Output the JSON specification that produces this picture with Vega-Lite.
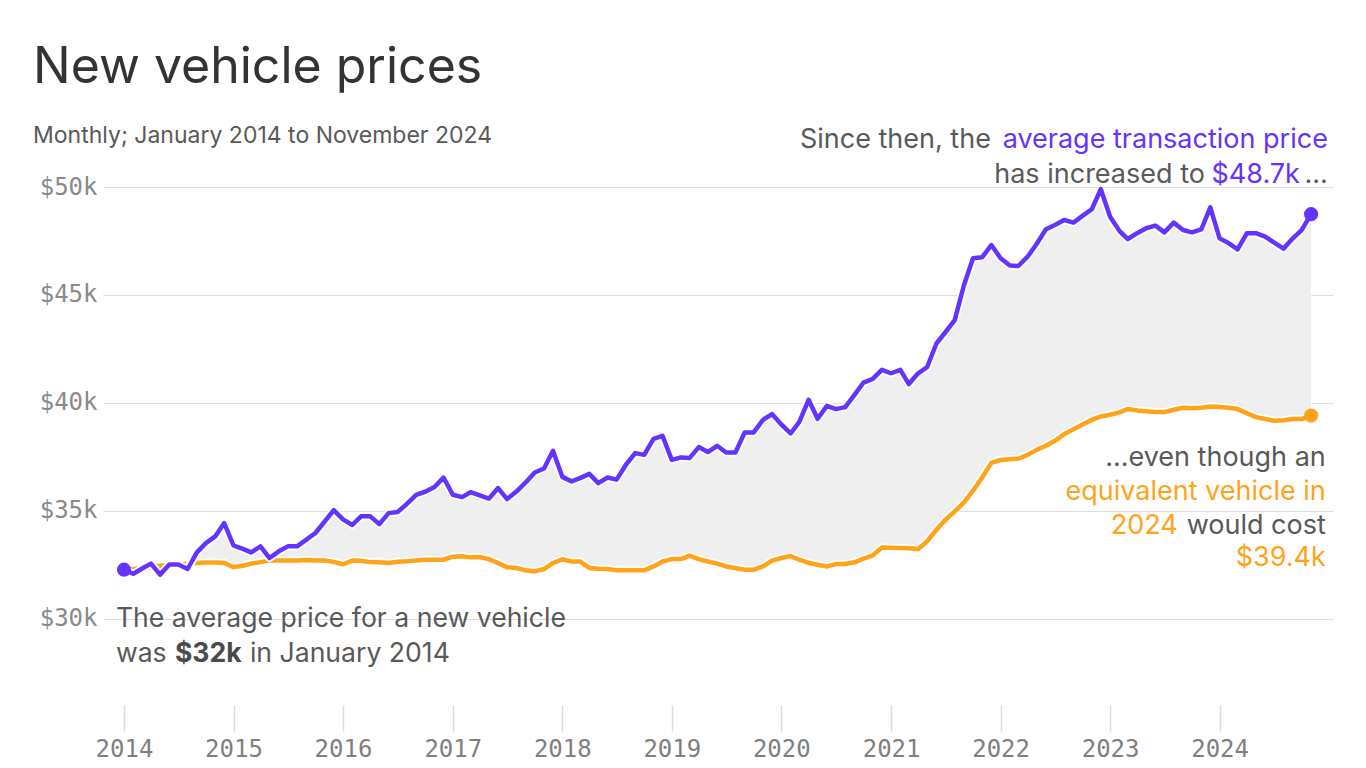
{
  "$schema": "https://vega.github.io/schema/vega-lite/v6.json",
  "width": 1230,
  "height": 518,
  "autosize": {"type": "none"},
  "padding": {"left": 103, "top": 187, "right": 33, "bottom": 63},
  "background": "white",
  "config": {"view": {"stroke": null}, "font": "Inter"},
  "title": {
    "text": "New vehicle prices",
    "subtitle": "Monthly; January 2014 to November 2024",
    "anchor": "start",
    "frame": "group",
    "dx": -70,
    "font": "Inter",
    "fontSize": 50,
    "fontWeight": 400,
    "color": "#333333",
    "subtitleFont": "Inter",
    "subtitleFontSize": 23,
    "subtitleColor": "#595959",
    "subtitlePadding": 32,
    "offset": -22
  },
  "datasets": {
    "prices": [
      {"date": "2014-01-01", "atp": 32.27, "eq": 32.27},
      {"date": "2014-02-01", "atp": 32.08, "eq": 32.30},
      {"date": "2014-03-01", "atp": 32.31, "eq": 32.35},
      {"date": "2014-04-01", "atp": 32.55, "eq": 32.39},
      {"date": "2014-05-01", "atp": 32.04, "eq": 32.45},
      {"date": "2014-06-01", "atp": 32.51, "eq": 32.50},
      {"date": "2014-07-01", "atp": 32.51, "eq": 32.51},
      {"date": "2014-08-01", "atp": 32.30, "eq": 32.55},
      {"date": "2014-09-01", "atp": 33.07, "eq": 32.58},
      {"date": "2014-10-01", "atp": 33.50, "eq": 32.60},
      {"date": "2014-11-01", "atp": 33.81, "eq": 32.60},
      {"date": "2014-12-01", "atp": 34.43, "eq": 32.58},
      {"date": "2015-01-01", "atp": 33.39, "eq": 32.39},
      {"date": "2015-02-01", "atp": 33.23, "eq": 32.45},
      {"date": "2015-03-01", "atp": 33.07, "eq": 32.55},
      {"date": "2015-04-01", "atp": 33.35, "eq": 32.62},
      {"date": "2015-05-01", "atp": 32.81, "eq": 32.69},
      {"date": "2015-06-01", "atp": 33.12, "eq": 32.69},
      {"date": "2015-07-01", "atp": 33.35, "eq": 32.69},
      {"date": "2015-08-01", "atp": 33.35, "eq": 32.69},
      {"date": "2015-09-01", "atp": 33.66, "eq": 32.72},
      {"date": "2015-10-01", "atp": 33.97, "eq": 32.70},
      {"date": "2015-11-01", "atp": 34.50, "eq": 32.70},
      {"date": "2015-12-01", "atp": 35.03, "eq": 32.63},
      {"date": "2016-01-01", "atp": 34.60, "eq": 32.52},
      {"date": "2016-02-01", "atp": 34.34, "eq": 32.69},
      {"date": "2016-03-01", "atp": 34.74, "eq": 32.68},
      {"date": "2016-04-01", "atp": 34.74, "eq": 32.62},
      {"date": "2016-05-01", "atp": 34.38, "eq": 32.61},
      {"date": "2016-06-01", "atp": 34.89, "eq": 32.58},
      {"date": "2016-07-01", "atp": 34.94, "eq": 32.64},
      {"date": "2016-08-01", "atp": 35.32, "eq": 32.66},
      {"date": "2016-09-01", "atp": 35.74, "eq": 32.69},
      {"date": "2016-10-01", "atp": 35.88, "eq": 32.73},
      {"date": "2016-11-01", "atp": 36.10, "eq": 32.73},
      {"date": "2016-12-01", "atp": 36.54, "eq": 32.73},
      {"date": "2017-01-01", "atp": 35.74, "eq": 32.87},
      {"date": "2017-02-01", "atp": 35.63, "eq": 32.89},
      {"date": "2017-03-01", "atp": 35.86, "eq": 32.84},
      {"date": "2017-04-01", "atp": 35.71, "eq": 32.86},
      {"date": "2017-05-01", "atp": 35.56, "eq": 32.76},
      {"date": "2017-06-01", "atp": 36.05, "eq": 32.58},
      {"date": "2017-07-01", "atp": 35.54, "eq": 32.38},
      {"date": "2017-08-01", "atp": 35.89, "eq": 32.35},
      {"date": "2017-09-01", "atp": 36.31, "eq": 32.24},
      {"date": "2017-10-01", "atp": 36.77, "eq": 32.19},
      {"date": "2017-11-01", "atp": 36.96, "eq": 32.30},
      {"date": "2017-12-01", "atp": 37.78, "eq": 32.58},
      {"date": "2018-01-01", "atp": 36.57, "eq": 32.75},
      {"date": "2018-02-01", "atp": 36.36, "eq": 32.65},
      {"date": "2018-03-01", "atp": 36.51, "eq": 32.65},
      {"date": "2018-04-01", "atp": 36.71, "eq": 32.35},
      {"date": "2018-05-01", "atp": 36.28, "eq": 32.31},
      {"date": "2018-06-01", "atp": 36.54, "eq": 32.30},
      {"date": "2018-07-01", "atp": 36.44, "eq": 32.24},
      {"date": "2018-08-01", "atp": 37.13, "eq": 32.24},
      {"date": "2018-09-01", "atp": 37.67, "eq": 32.24},
      {"date": "2018-10-01", "atp": 37.59, "eq": 32.24},
      {"date": "2018-11-01", "atp": 38.33, "eq": 32.42},
      {"date": "2018-12-01", "atp": 38.47, "eq": 32.65},
      {"date": "2019-01-01", "atp": 37.36, "eq": 32.76},
      {"date": "2019-02-01", "atp": 37.47, "eq": 32.76},
      {"date": "2019-03-01", "atp": 37.44, "eq": 32.92},
      {"date": "2019-04-01", "atp": 37.95, "eq": 32.76},
      {"date": "2019-05-01", "atp": 37.72, "eq": 32.65},
      {"date": "2019-06-01", "atp": 38.01, "eq": 32.55},
      {"date": "2019-07-01", "atp": 37.70, "eq": 32.42},
      {"date": "2019-08-01", "atp": 37.70, "eq": 32.35},
      {"date": "2019-09-01", "atp": 38.63, "eq": 32.27},
      {"date": "2019-10-01", "atp": 38.63, "eq": 32.27},
      {"date": "2019-11-01", "atp": 39.21, "eq": 32.42},
      {"date": "2019-12-01", "atp": 39.48, "eq": 32.69},
      {"date": "2020-01-01", "atp": 39.00, "eq": 32.81},
      {"date": "2020-02-01", "atp": 38.58, "eq": 32.90},
      {"date": "2020-03-01", "atp": 39.12, "eq": 32.73},
      {"date": "2020-04-01", "atp": 40.14, "eq": 32.58},
      {"date": "2020-05-01", "atp": 39.26, "eq": 32.50},
      {"date": "2020-06-01", "atp": 39.86, "eq": 32.42},
      {"date": "2020-07-01", "atp": 39.71, "eq": 32.53},
      {"date": "2020-08-01", "atp": 39.80, "eq": 32.53},
      {"date": "2020-09-01", "atp": 40.37, "eq": 32.61},
      {"date": "2020-10-01", "atp": 40.94, "eq": 32.78},
      {"date": "2020-11-01", "atp": 41.11, "eq": 32.93},
      {"date": "2020-12-01", "atp": 41.53, "eq": 33.30},
      {"date": "2021-01-01", "atp": 41.37, "eq": 33.29},
      {"date": "2021-02-01", "atp": 41.53, "eq": 33.27},
      {"date": "2021-03-01", "atp": 40.87, "eq": 33.26},
      {"date": "2021-04-01", "atp": 41.37, "eq": 33.23},
      {"date": "2021-05-01", "atp": 41.65, "eq": 33.58},
      {"date": "2021-06-01", "atp": 42.75, "eq": 34.12},
      {"date": "2021-07-01", "atp": 43.27, "eq": 34.58},
      {"date": "2021-08-01", "atp": 43.83, "eq": 34.97},
      {"date": "2021-09-01", "atp": 45.46, "eq": 35.39},
      {"date": "2021-10-01", "atp": 46.70, "eq": 35.93},
      {"date": "2021-11-01", "atp": 46.75, "eq": 36.55},
      {"date": "2021-12-01", "atp": 47.31, "eq": 37.22},
      {"date": "2022-01-01", "atp": 46.70, "eq": 37.35},
      {"date": "2022-02-01", "atp": 46.36, "eq": 37.39},
      {"date": "2022-03-01", "atp": 46.34, "eq": 37.41},
      {"date": "2022-04-01", "atp": 46.77, "eq": 37.59},
      {"date": "2022-05-01", "atp": 47.36, "eq": 37.82},
      {"date": "2022-06-01", "atp": 48.04, "eq": 38.01},
      {"date": "2022-07-01", "atp": 48.24, "eq": 38.24},
      {"date": "2022-08-01", "atp": 48.47, "eq": 38.55},
      {"date": "2022-09-01", "atp": 48.35, "eq": 38.78},
      {"date": "2022-10-01", "atp": 48.66, "eq": 39.00},
      {"date": "2022-11-01", "atp": 48.97, "eq": 39.21},
      {"date": "2022-12-01", "atp": 49.90, "eq": 39.37},
      {"date": "2023-01-01", "atp": 48.62, "eq": 39.45},
      {"date": "2023-02-01", "atp": 47.97, "eq": 39.56},
      {"date": "2023-03-01", "atp": 47.59, "eq": 39.71},
      {"date": "2023-04-01", "atp": 47.86, "eq": 39.65},
      {"date": "2023-05-01", "atp": 48.09, "eq": 39.61},
      {"date": "2023-06-01", "atp": 48.21, "eq": 39.58},
      {"date": "2023-07-01", "atp": 47.90, "eq": 39.57},
      {"date": "2023-08-01", "atp": 48.35, "eq": 39.68},
      {"date": "2023-09-01", "atp": 48.01, "eq": 39.77},
      {"date": "2023-10-01", "atp": 47.90, "eq": 39.75},
      {"date": "2023-11-01", "atp": 48.04, "eq": 39.77},
      {"date": "2023-12-01", "atp": 49.06, "eq": 39.83},
      {"date": "2024-01-01", "atp": 47.62, "eq": 39.81},
      {"date": "2024-02-01", "atp": 47.39, "eq": 39.77},
      {"date": "2024-03-01", "atp": 47.11, "eq": 39.71},
      {"date": "2024-04-01", "atp": 47.86, "eq": 39.52},
      {"date": "2024-05-01", "atp": 47.86, "eq": 39.34},
      {"date": "2024-06-01", "atp": 47.70, "eq": 39.25},
      {"date": "2024-07-01", "atp": 47.42, "eq": 39.17},
      {"date": "2024-08-01", "atp": 47.14, "eq": 39.19},
      {"date": "2024-09-01", "atp": 47.62, "eq": 39.25},
      {"date": "2024-10-01", "atp": 48.01, "eq": 39.25},
      {"date": "2024-11-01", "atp": 48.74, "eq": 39.41}
    ],
    "notes": [
      {"key": "a1", "label": "average transaction price"},
      {"key": "a2", "label": "Since then, the"},
      {"key": "a3", "label": "..."},
      {"key": "a4", "label": "$48.7k"},
      {"key": "a5", "label": "has increased to"},
      {"key": "b1", "label": "...even though an"},
      {"key": "b2", "label": "equivalent vehicle in"},
      {"key": "b3", "label": "would cost"},
      {"key": "b4", "label": "2024"},
      {"key": "b5", "label": "$39.4k"},
      {"key": "c1", "label": "The average price for a new vehicle"},
      {"key": "c2", "label": "was"},
      {"key": "c3", "label": "$32k"},
      {"key": "c4", "label": "in January 2014"}
    ]
  },
  "layer": [
    {
      "data": {"name": "prices"},
      "encoding": {
        "x": {
          "field": "date",
          "type": "temporal",
          "title": null,
          "scale": {
            "type": "utc",
            "domain": [
              {"year": 2013, "month": 10, "date": 23, "utc": true},
              {"year": 2025, "month": 1, "date": 13, "utc": true}
            ]
          },
          "axis": {
            "format": "%Y",
            "formatType": "utc",
            "values": [
              {"year": 2014, "month": 1, "date": 1, "utc": true},
              {"year": 2015, "month": 1, "date": 1, "utc": true},
              {"year": 2016, "month": 1, "date": 1, "utc": true},
              {"year": 2017, "month": 1, "date": 1, "utc": true},
              {"year": 2018, "month": 1, "date": 1, "utc": true},
              {"year": 2019, "month": 1, "date": 1, "utc": true},
              {"year": 2020, "month": 1, "date": 1, "utc": true},
              {"year": 2021, "month": 1, "date": 1, "utc": true},
              {"year": 2022, "month": 1, "date": 1, "utc": true},
              {"year": 2023, "month": 1, "date": 1, "utc": true},
              {"year": 2024, "month": 1, "date": 1, "utc": true}
            ],
            "domain": false,
            "grid": false,
            "ticks": true,
            "tickSize": 26,
            "tickColor": "#dddddd",
            "tickWidth": 1.5,
            "labelFont": "DejaVu Sans Mono",
            "labelFontSize": 24,
            "labelColor": "#7f7f7f",
            "labelPadding": 6
          }
        }
      },
      "layer": [
        {
          "mark": {"type": "area", "color": "#efefef"},
          "encoding": {
            "y": {
              "field": "atp",
              "type": "quantitative",
              "title": null,
              "scale": {"domain": [26, 50], "nice": false, "zero": false},
              "axis": {
                "values": [30, 35, 40, 45, 50],
                "labelExpr": "'$' + datum.value + 'k'",
                "domain": false,
                "ticks": false,
                "grid": true,
                "gridColor": "#dddddd",
                "gridWidth": 1.2,
                "labelFont": "DejaVu Sans Mono",
                "labelFontSize": 24,
                "labelColor": "#8a8a8a",
                "labelPadding": 6
              }
            },
            "y2": {"field": "eq"}
          }
        },
        {
          "mark": {"type": "line", "color": "white", "strokeWidth": 8, "strokeJoin": "round"},
          "encoding": {"y": {"field": "eq", "type": "quantitative"}}
        },
        {
          "mark": {"type": "line", "color": "#FFA31A", "strokeWidth": 4.5, "strokeJoin": "round"},
          "encoding": {"y": {"field": "eq", "type": "quantitative"}}
        },
        {
          "mark": {"type": "line", "color": "white", "strokeWidth": 8, "strokeJoin": "round"},
          "encoding": {"y": {"field": "atp", "type": "quantitative"}}
        },
        {
          "mark": {"type": "line", "color": "#6533FF", "strokeWidth": 4.5, "strokeJoin": "round"},
          "encoding": {"y": {"field": "atp", "type": "quantitative"}}
        },
        {
          "transform": [{"filter": "utcyear(datum.date) == 2024 && utcmonth(datum.date) == 10"}],
          "mark": {"type": "circle", "color": "#FFA31A", "opacity": 1, "size": 200},
          "encoding": {"y": {"field": "eq", "type": "quantitative"}}
        },
        {
          "transform": [{"filter": "(utcyear(datum.date) == 2024 && utcmonth(datum.date) == 10) || (utcyear(datum.date) == 2014 && utcmonth(datum.date) == 0)"}],
          "mark": {"type": "circle", "color": "#6533FF", "opacity": 1, "size": 200},
          "encoding": {"y": {"field": "atp", "type": "quantitative"}}
        }
      ]
    },
    {
      "data": {"name": "notes"},
      "layer": [
        {
          "transform": [{"filter": "datum.key == 'a1'"}],
          "mark": {"type": "text", "align": "right", "baseline": "alphabetic", "font": "Inter", "fontSize": 27, "color": "#6533FF"},
          "encoding": {"text": {"field": "label"}, "x": {"datum": {"year": 2024, "month": 12, "date": 27, "utc": true}, "type": "temporal"}, "y": {"datum": 51.81, "type": "quantitative"}}
        },
        {
          "transform": [{"filter": "datum.key == 'a2'"}],
          "mark": {"type": "text", "align": "right", "baseline": "alphabetic", "font": "Inter", "fontSize": 27, "color": "#595959", "dx": -337},
          "encoding": {"text": {"field": "label"}, "x": {"datum": {"year": 2024, "month": 12, "date": 27, "utc": true}, "type": "temporal"}, "y": {"datum": 51.81, "type": "quantitative"}}
        },
        {
          "transform": [{"filter": "datum.key == 'a3'"}],
          "mark": {"type": "text", "align": "right", "baseline": "alphabetic", "font": "Inter", "fontSize": 27, "color": "#595959"},
          "encoding": {"text": {"field": "label"}, "x": {"datum": {"year": 2024, "month": 12, "date": 27, "utc": true}, "type": "temporal"}, "y": {"datum": 50.2, "type": "quantitative"}}
        },
        {
          "transform": [{"filter": "datum.key == 'a4'"}],
          "mark": {"type": "text", "align": "right", "baseline": "alphabetic", "font": "Inter", "fontSize": 27, "color": "#6533FF", "dx": -28},
          "encoding": {"text": {"field": "label"}, "x": {"datum": {"year": 2024, "month": 12, "date": 27, "utc": true}, "type": "temporal"}, "y": {"datum": 50.2, "type": "quantitative"}}
        },
        {
          "transform": [{"filter": "datum.key == 'a5'"}],
          "mark": {"type": "text", "align": "right", "baseline": "alphabetic", "font": "Inter", "fontSize": 27, "color": "#595959", "dx": -123},
          "encoding": {"text": {"field": "label"}, "x": {"datum": {"year": 2024, "month": 12, "date": 27, "utc": true}, "type": "temporal"}, "y": {"datum": 50.2, "type": "quantitative"}}
        },
        {
          "transform": [{"filter": "datum.key == 'b1'"}],
          "mark": {"type": "text", "align": "right", "baseline": "alphabetic", "font": "Inter", "fontSize": 27, "color": "#595959"},
          "encoding": {"text": {"field": "label"}, "x": {"datum": {"year": 2024, "month": 12, "date": 20, "utc": true}, "type": "temporal"}, "y": {"datum": 37.07, "type": "quantitative"}}
        },
        {
          "transform": [{"filter": "datum.key == 'b2'"}],
          "mark": {"type": "text", "align": "right", "baseline": "alphabetic", "font": "Inter", "fontSize": 27, "color": "#FFA31A"},
          "encoding": {"text": {"field": "label"}, "x": {"datum": {"year": 2024, "month": 12, "date": 20, "utc": true}, "type": "temporal"}, "y": {"datum": 35.5, "type": "quantitative"}}
        },
        {
          "transform": [{"filter": "datum.key == 'b3'"}],
          "mark": {"type": "text", "align": "right", "baseline": "alphabetic", "font": "Inter", "fontSize": 27, "color": "#595959"},
          "encoding": {"text": {"field": "label"}, "x": {"datum": {"year": 2024, "month": 12, "date": 20, "utc": true}, "type": "temporal"}, "y": {"datum": 33.92, "type": "quantitative"}}
        },
        {
          "transform": [{"filter": "datum.key == 'b4'"}],
          "mark": {"type": "text", "align": "right", "baseline": "alphabetic", "font": "Inter", "fontSize": 27, "color": "#FFA31A", "dx": -148},
          "encoding": {"text": {"field": "label"}, "x": {"datum": {"year": 2024, "month": 12, "date": 20, "utc": true}, "type": "temporal"}, "y": {"datum": 33.92, "type": "quantitative"}}
        },
        {
          "transform": [{"filter": "datum.key == 'b5'"}],
          "mark": {"type": "text", "align": "right", "baseline": "alphabetic", "font": "Inter", "fontSize": 27, "color": "#FFA31A"},
          "encoding": {"text": {"field": "label"}, "x": {"datum": {"year": 2024, "month": 12, "date": 20, "utc": true}, "type": "temporal"}, "y": {"datum": 32.44, "type": "quantitative"}}
        },
        {
          "transform": [{"filter": "datum.key == 'c1'"}],
          "mark": {"type": "text", "align": "left", "baseline": "alphabetic", "font": "Inter", "fontSize": 26.6, "color": "#595959"},
          "encoding": {"text": {"field": "label"}, "x": {"datum": {"year": 2013, "month": 12, "date": 5, "utc": true}, "type": "temporal"}, "y": {"datum": 29.61, "type": "quantitative"}}
        },
        {
          "transform": [{"filter": "datum.key == 'c2'"}],
          "mark": {"type": "text", "align": "left", "baseline": "alphabetic", "font": "Inter", "fontSize": 26.6, "color": "#595959"},
          "encoding": {"text": {"field": "label"}, "x": {"datum": {"year": 2013, "month": 12, "date": 5, "utc": true}, "type": "temporal"}, "y": {"datum": 27.99, "type": "quantitative"}}
        },
        {
          "transform": [{"filter": "datum.key == 'c3'"}],
          "mark": {"type": "text", "align": "left", "baseline": "alphabetic", "font": "Inter", "fontSize": 26.6, "fontWeight": "bold", "color": "#4a4a4a", "dx": 59},
          "encoding": {"text": {"field": "label"}, "x": {"datum": {"year": 2013, "month": 12, "date": 5, "utc": true}, "type": "temporal"}, "y": {"datum": 27.99, "type": "quantitative"}}
        },
        {
          "transform": [{"filter": "datum.key == 'c4'"}],
          "mark": {"type": "text", "align": "left", "baseline": "alphabetic", "font": "Inter", "fontSize": 26.6, "color": "#595959", "dx": 134},
          "encoding": {"text": {"field": "label"}, "x": {"datum": {"year": 2013, "month": 12, "date": 5, "utc": true}, "type": "temporal"}, "y": {"datum": 27.99, "type": "quantitative"}}
        }
      ]
    }
  ]
}
